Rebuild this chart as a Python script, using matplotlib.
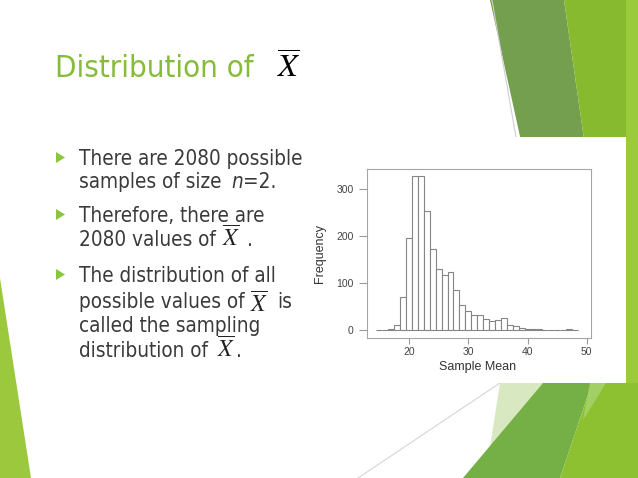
import matplotlib
matplotlib.use('Agg')
import matplotlib.pyplot as plt
from matplotlib import font_manager
from matplotlib.font_manager import FontProperties
from matplotlib.patches import Polygon, Rectangle

# histogram values (bins one unit wide, centred on the integers)
sample_mean = list(range(15, 49))
frequency = [1, 1, 2, 12, 70, 197, 329, 328, 254, 173, 131, 117, 124, 85, 54, 40,
             32, 32, 23, 19, 21, 25, 11, 9, 4, 3, 3, 3, 1, 1, 0, 1, 2, 1]
x_ticks = [20, 30, 40, 50]
y_ticks = [0, 100, 200, 300]

title = 'Distribution of'
xbar = r'$\overline{X}$'

plt.rcParams['font.family'] = ['Liberation Sans', 'DejaVu Sans']
plt.rcParams['mathtext.fontset'] = 'stix'

# slide font: narrow humanist sans, condensed DejaVu if it is there
has_cond = any(f.name == 'DejaVu Sans' and f.stretch == 'condensed'
               for f in font_manager.fontManager.ttflist)
if has_cond:
    reg = FontProperties(family='DejaVu Sans', stretch='condensed')
    ita = FontProperties(family='DejaVu Sans', stretch='condensed', style='oblique')
else:
    reg = FontProperties(family='Lato')
    ita = FontProperties(family='Lato', style='italic')

fig = plt.figure(figsize=(6.38, 4.78), dpi=100)
fig.patch.set_facecolor('white')
renderer = fig.canvas.get_renderer()

# slide background, in pixel units
bg = fig.add_axes([0, 0, 1, 1])
bg.set_xlim(0, 638)
bg.set_ylim(478, 0)
bg.axis('off')


def fit_size(s, size, target):
    t = bg.text(0, 0, s, fontproperties=reg, fontsize=size)
    w = t.get_window_extent(renderer).width
    t.remove()
    return size * target / w


body_size = fit_size('There are 2080 possible', 17, 223)
title_size = fit_size(title, 22, 200)

shapes = [
    ([(0, 278), (31, 478), (0, 478)], '#9cc83e'),
    ([(490, 0), (564, 0), (600, 250), (545, 250)], '#739f4f'),
    ([(564, 0), (626, 0), (626, 250), (600, 250)], '#88ba30'),
    ([(626, 0), (638, 0), (638, 478), (626, 478)], '#9bcb3c'),
    ([(500, 383), (543, 383), (490, 447)], '#d8e8c0'),
    ([(543, 383), (592, 383), (560, 478), (463, 478)], '#74b046'),
    ([(592, 383), (638, 383), (638, 478), (560, 478)], '#8dc132'),
    ([(590, 383), (606, 383), (583, 420)], '#a3d064'),
]
for pts, c in shapes:
    bg.add_patch(Polygon(pts, closed=True, fc=c, ec='none', zorder=1))
bg.plot([492, 516], [0, 137], color='#cfcfcf', lw=0.8, zorder=2)
bg.plot([358, 500], [478, 383], color='#d5d5d5', lw=0.8, zorder=2)

bg.text(55, 77, title, fontproperties=reg, fontsize=title_size, color='#86bc3a',
        va='baseline', zorder=3)
bg.text(277, 78, xbar, fontsize=23, color='black', va='baseline', zorder=3)

body = dict(fontproperties=reg, fontsize=body_size, color='#3a3a3a')
body_it = dict(fontproperties=ita, fontsize=body_size, color='#3a3a3a')
mx = dict(fontsize=17, color='#222222')


def put_line(x, y, pieces):
    for s, kw, gap, dy in pieces:
        t = bg.text(x, y + dy, s, va='baseline', ha='left', zorder=3, **kw)
        x += t.get_window_extent(renderer).width + gap


lines = [
    (165, [('There are 2080 possible', body, 0, 0)]),
    (188, [('samples of size', body, 10, 0), ('n', body_it, 0, 0), ('=2.', body, 0, 0)]),
    (222, [('Therefore, there are', body, 0, 0)]),
    (246, [('2080 values of', body, 6, 0), (xbar, mx, 7, 0), ('.', body, 0, 0)]),
    (282, [('The distribution of all', body, 0, 0)]),
    (308, [('possible values of', body, 5, 0), (xbar, mx, 9, 4), ('is', body, 0, 0)]),
    (332, [('called the sampling', body, 0, 0)]),
    (357, [('distribution of', body, 9, 0), (xbar, mx, 1, 0), ('.', body, 0, 0)]),
]
for y, pieces in lines:
    put_line(79, y, pieces)

for b in [165, 222, 282]:
    bg.add_patch(Polygon([(56, b - 13), (56, b - 2), (65, b - 7.5)], closed=True,
                         fc='#8cc63f', ec='none', zorder=3))

# pasted picture of the histogram
bg.add_patch(Rectangle((303, 137), 323, 246, fc='white', ec='none', zorder=5))

ax = fig.add_axes([366.7 / 638, (478 - 337.5) / 478, 224 / 638, 168.5 / 478])
ax.set_facecolor('none')
ax.bar(sample_mean, frequency, width=1, color='white', edgecolor='#858585', linewidth=0.8)
ax.set_xlim(12.85, 50.67)
ax.set_ylim(-15.5, 343)
ax.set_xticks(x_ticks)
ax.set_yticks(y_ticks)
for sp in ax.spines.values():
    sp.set_color('#a5a5a5')
    sp.set_linewidth(0.8)
ax.tick_params(axis='both', colors='#9a9a9a', labelcolor='#444444', labelsize=7.5,
               direction='out', width=0.8)
ax.tick_params(axis='y', length=6, pad=3.5)
ax.tick_params(axis='x', length=4.5, pad=2.5)
ax.set_xlabel('Sample Mean', fontsize=9, color='#333333')
ax.xaxis.set_label_coords(0.497, -0.14)
ax.set_ylabel('Frequency', fontsize=9, color='#333333')
ax.yaxis.set_label_coords(-0.18, 0.5)

fig.savefig('out.png', dpi=100)
